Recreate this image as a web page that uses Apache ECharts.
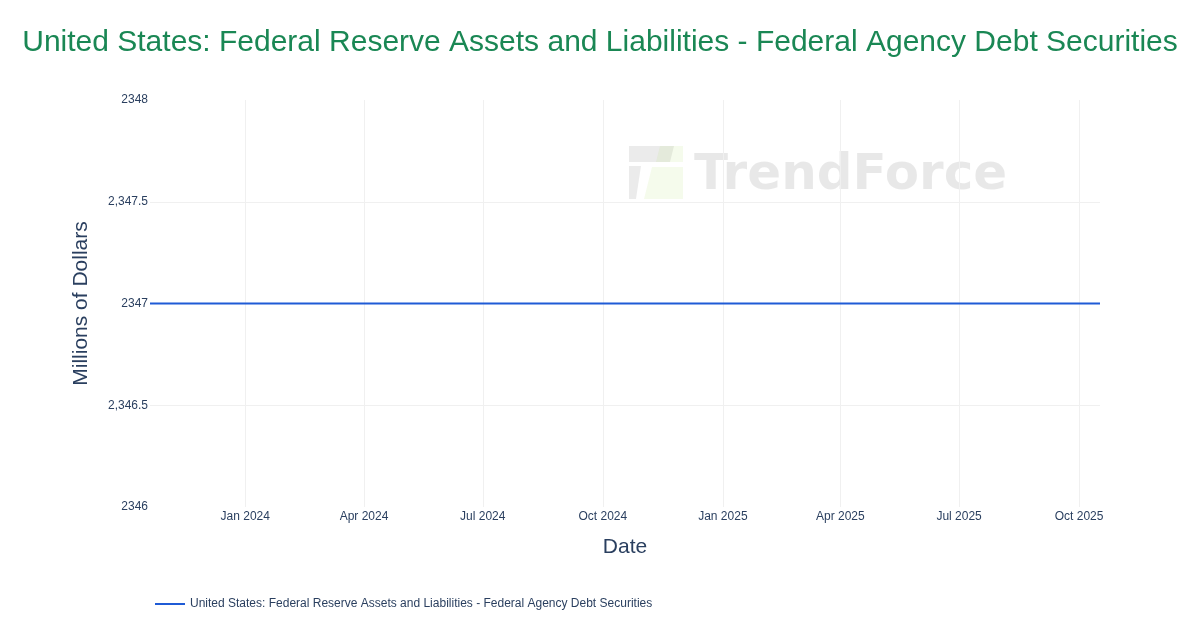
<!DOCTYPE html>
<html>
<head>
<meta charset="utf-8">
<script src="https://cdn.jsdelivr.net/npm/echarts@6/dist/echarts.min.js"></script>
<style>html,body{margin:0;padding:0;background:#fff}#c{width:1200px;height:630px}</style>
</head>
<body>
<div id="c"></div>
<script>
var seriesName = 'United States: Federal Reserve Assets and Liabilities - Federal Agency Debt Securities';
var dates = [
 '2023-10-20','2023-10-27','2023-11-03','2023-11-10','2023-11-17','2023-11-24',
 '2023-12-01','2023-12-08','2023-12-15','2023-12-22','2023-12-29',
 '2024-01-05','2024-01-12','2024-01-19','2024-01-26',
 '2024-02-02','2024-02-09','2024-02-16','2024-02-23',
 '2024-03-01','2024-03-08','2024-03-15','2024-03-22','2024-03-29',
 '2024-04-05','2024-04-12','2024-04-19','2024-04-26',
 '2024-05-03','2024-05-10','2024-05-17','2024-05-24','2024-05-31',
 '2024-06-07','2024-06-14','2024-06-21','2024-06-28',
 '2024-07-05','2024-07-12','2024-07-19','2024-07-26',
 '2024-08-02','2024-08-09','2024-08-16','2024-08-23','2024-08-30',
 '2024-09-06','2024-09-13','2024-09-20','2024-09-27',
 '2024-10-04','2024-10-11','2024-10-18','2024-10-25',
 '2024-11-01','2024-11-08','2024-11-15','2024-11-22','2024-11-29',
 '2024-12-06','2024-12-13','2024-12-20','2024-12-27',
 '2025-01-03','2025-01-10','2025-01-17','2025-01-24','2025-01-31',
 '2025-02-07','2025-02-14','2025-02-21','2025-02-28',
 '2025-03-07','2025-03-14','2025-03-21','2025-03-28',
 '2025-04-04','2025-04-11','2025-04-18','2025-04-25',
 '2025-05-02','2025-05-09','2025-05-16','2025-05-23','2025-05-30',
 '2025-06-06','2025-06-13','2025-06-20','2025-06-27',
 '2025-07-04','2025-07-11','2025-07-18','2025-07-25',
 '2025-08-01','2025-08-08','2025-08-15','2025-08-22','2025-08-29',
 '2025-09-05','2025-09-12','2025-09-19','2025-09-26',
 '2025-10-03','2025-10-10','2025-10-17'
];
var values = [
 2347,2347,2347,2347,2347,2347,
 2347,2347,2347,2347,2347,
 2347,2347,2347,2347,
 2347,2347,2347,2347,
 2347,2347,2347,2347,2347,
 2347,2347,2347,2347,
 2347,2347,2347,2347,2347,
 2347,2347,2347,2347,
 2347,2347,2347,2347,
 2347,2347,2347,2347,2347,
 2347,2347,2347,2347,
 2347,2347,2347,2347,
 2347,2347,2347,2347,2347,
 2347,2347,2347,2347,
 2347,2347,2347,2347,2347,
 2347,2347,2347,2347,
 2347,2347,2347,2347,
 2347,2347,2347,2347,
 2347,2347,2347,2347,2347,
 2347,2347,2347,2347,
 2347,2347,2347,2347,
 2347,2347,2347,2347,2347,
 2347,2347,2347,2347,
 2347,2347,2347
];
var xTickDates = ['2024-01-01','2024-04-01','2024-07-01','2024-10-01','2025-01-01','2025-04-01','2025-07-01','2025-10-01'];
var xTickLabels = ['Jan 2024','Apr 2024','Jul 2024','Oct 2024','Jan 2025','Apr 2025','Jul 2025','Oct 2025'];
var yTickValues = [2346, 2346.5, 2347, 2347.5, 2348];
var yTickLabels = ['2346', '2,346.5', '2347', '2,347.5', '2348'];

var ts = function (d) { return new Date(d + 'T00:00:00Z').getTime(); };
var xTickTs = xTickDates.map(ts);
var data = dates.map(function (d, i) { return [ts(d), values[i]]; });

var textColor = '#2a3f5f';
var chart = echarts.init(document.getElementById('c'));
chart.setOption({
  animation: false,
  backgroundColor: '#ffffff',
  title: {
    text: seriesName,
    left: 'center',
    top: 23,
    textStyle: { color: '#1a8754', fontSize: 30, fontWeight: 'normal', fontFamily: 'Liberation Sans, Arial, sans-serif' }
  },
  graphic: [
    { type: 'polygon', silent: true, z: 0, shape: { points: [[629,146],[674,146],[670,162],[629,162]] }, style: { fill: 'rgba(0,0,0,0.08)' } },
    { type: 'polygon', silent: true, z: 0, shape: { points: [[629,166],[641,166],[636,199],[629,199]] }, style: { fill: 'rgba(0,0,0,0.08)' } },
    { type: 'polygon', silent: true, z: 0, shape: { points: [[660,146],[683,146],[683,162],[656,162]] }, style: { fill: 'rgba(190,225,130,0.15)' } },
    { type: 'polygon', silent: true, z: 0, shape: { points: [[652,167],[683,167],[683,199],[644,199]] }, style: { fill: 'rgba(190,225,130,0.15)' } },
    { type: 'text', silent: true, z: 0, left: 694, top: 151, style: { text: 'TrendForce', fill: 'rgba(0,0,0,0.09)', fontSize: 50, fontWeight: 'bold', fontFamily: 'DejaVu Sans, sans-serif' } }
  ],
  legend: {
    left: 150,
    top: 593,
    itemWidth: 30,
    itemHeight: 2,
    icon: 'rect',
    textStyle: { color: textColor, fontSize: 12, fontFamily: 'Liberation Sans, Arial, sans-serif' },
    data: [seriesName]
  },
  grid: { left: 150, right: 100, top: 100, bottom: 123, containLabel: false },
  xAxis: {
    type: 'value',
    min: ts(dates[0]),
    max: ts(dates[dates.length - 1]),
    name: 'Date',
    nameLocation: 'middle',
    nameGap: 30,
    nameTextStyle: { color: textColor, fontSize: 21, fontFamily: 'Liberation Sans, Arial, sans-serif' },
    axisLine: { show: false },
    axisTick: { show: false, customValues: xTickTs },
    axisLabel: {
      customValues: xTickTs,
      color: textColor, fontSize: 12, margin: 4,
      fontFamily: 'Liberation Sans, Arial, sans-serif',
      formatter: function (v) { var i = xTickTs.indexOf(v); return i >= 0 ? xTickLabels[i] : ''; }
    },
    splitLine: { show: true, lineStyle: { color: '#f0f0f0', width: 1 } }
  },
  yAxis: {
    type: 'value',
    min: 2346,
    max: 2348,
    interval: 0.5,
    name: 'Millions of Dollars',
    nameLocation: 'middle',
    nameGap: 58,
    nameTextStyle: { color: textColor, fontSize: 21, fontFamily: 'Liberation Sans, Arial, sans-serif' },
    axisLine: { show: false },
    axisTick: { show: false },
    axisLabel: {
      color: textColor, fontSize: 12, margin: 2,
      fontFamily: 'Liberation Sans, Arial, sans-serif',
      formatter: function (v) { var i = yTickValues.indexOf(v); return i >= 0 ? yTickLabels[i] : ''; }
    },
    splitLine: { show: true, showMinLine: false, showMaxLine: false, lineStyle: { color: '#f0f0f0', width: 1 } }
  },
  series: [{
    name: seriesName,
    type: 'line',
    data: data,
    showSymbol: false,
    symbol: 'none',
    lineStyle: { color: '#1f5bd6', width: 2 },
    itemStyle: { color: '#1f5bd6' }
  }]
});
</script>
</body>
</html>
